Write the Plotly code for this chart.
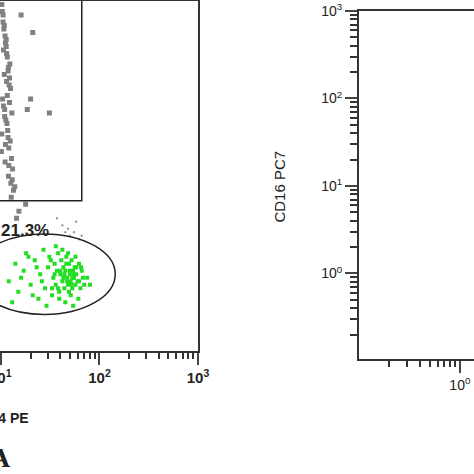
import plotly.graph_objects as go

# left panel events (CD4 PE on x, linear position on y)
gray_x = [10.2, 10.5, 10.8, 11.0, 11.3, 11.6, 11.9, 12.2, 12.5, 10.3, 10.7, 11.1, 11.4, 11.8, 12.1,
          10.4, 10.9, 11.2, 11.7, 12.4, 10.6, 11.5, 12.0, 12.8, 13.1, 10.1, 11.0, 11.9, 12.6, 13.4,
          10.5, 11.3, 12.3, 10.8, 11.6, 12.9, 10.2, 11.1, 12.0, 13.0, 10.6, 11.4, 12.2, 10.9, 11.8,
          16.0, 21.0, 20.0, 31.0, 18.5, 17.8, 15.2, 14.4, 12.7, 13.8]
gray_y = [99, 96, 93, 90, 87, 84, 81, 78, 75, 97, 92, 88, 85, 80, 76, 72, 69, 66, 63, 60, 70, 65,
          58, 55, 52, 57, 54, 50, 48, 46, 94, 89, 82, 79, 73, 68, 62, 59, 53, 49, 86, 77, 71, 67, 61,
          96, 91, 72, 68, 69, 42, 40, 38, 44, 47]
green_x = [12, 14, 15, 17, 18, 20, 22, 24, 25, 27, 28, 30, 31, 33, 34, 35, 36, 37, 38, 39, 40, 41,
           42, 43, 44, 45, 46, 47, 48, 49, 50, 51, 52, 53, 54, 55, 56, 57, 58, 60, 62, 64, 66, 68,
           70, 13, 16, 19, 21, 23, 26, 29, 32, 36, 39, 42, 45, 48, 51, 54, 57, 61, 65, 75, 80, 44,
           47, 50, 53, 46, 49, 52, 43, 40, 38, 55, 58, 62, 35, 33]
green_y = [20, 25, 17, 23, 28, 19, 26, 15, 22, 29, 18, 24, 27, 16, 21, 25, 19, 23, 28, 17, 22, 26,
           20, 24, 18, 23, 27, 21, 19, 25, 22, 20, 26, 18, 23, 21, 24, 19, 22, 20, 25, 18, 23, 21,
           19, 14, 21, 27, 16, 24, 20, 13, 26, 30, 15, 29, 14, 28, 16, 13, 27, 15, 24, 21, 19, 22,
           20, 23, 21, 25, 17, 19, 21, 23, 18, 22, 24, 20, 22, 18]
stray_x = [45, 50, 48, 42, 55, 62, 66, 58, 37]
stray_y = [34, 33, 35, 36, 34, 32, 33, 37, 38]

# gates
rect_gate = [1.0, 1.82, 43, 101]          # log x0, log x1, y0, y1
ellipse_gate = [0.72, 2.16, 10.5, 33.5]   # log x0, log x1, y0, y1

x_ticks = [10, 100, 1000]
x_labels = ["10<sup>1</sup>", "10<sup>2</sup>", "10<sup>3</sup>"]
y2_ticks = [1, 10, 100, 1000]
y2_labels = ["10<sup>0</sup>", "10<sup>1</sup>", "10<sup>2</sup>", "10<sup>3</sup>"]
x2_ticks = [1]
x2_labels = ["10<sup>0</sup>"]
minor_ticks = [m * 10 ** e for e in range(-2, 3) for m in range(2, 10)]

fig = go.Figure()
fig.add_trace(go.Scatter(x=gray_x, y=gray_y, mode="markers",
                         marker=dict(color="#808080", size=5, symbol="square"), xaxis="x", yaxis="y"))
fig.add_trace(go.Scatter(x=stray_x, y=stray_y, mode="markers",
                         marker=dict(color="#909090", size=2, symbol="square"), xaxis="x", yaxis="y"))
fig.add_trace(go.Scatter(x=green_x, y=green_y, mode="markers",
                         marker=dict(color="#22dd22", size=4, symbol="square"), xaxis="x", yaxis="y"))
# dummy trace so the right panel is drawn
fig.add_trace(go.Scatter(x=[], y=[], xaxis="x2", yaxis="y2"))

fig.add_shape(type="rect", xref="x", yref="y", x0=10 ** rect_gate[0] * 0.8, x1=10 ** rect_gate[1],
              y0=rect_gate[2], y1=rect_gate[3], line=dict(color="#222", width=1.5))
fig.add_shape(type="circle", xref="x", yref="y", x0=10 ** ellipse_gate[0], x1=10 ** ellipse_gate[1],
              y0=ellipse_gate[2], y1=ellipse_gate[3], line=dict(color="#222", width=1.5))

axis_line = dict(showline=True, linecolor="#333", linewidth=2, mirror=True, showgrid=False,
                 zeroline=False, automargin=False)
minor = dict(ticks="outside", ticklen=6, tickwidth=1.5, tickcolor="#333", tickvals=minor_ticks)
fig.update_layout(
    width=474, height=474, margin=dict(l=0, r=0, t=1, b=0),
    paper_bgcolor="white", plot_bgcolor="white", showlegend=False,
    font=dict(family="Liberation Sans, Arial", color="#222"),
    xaxis=dict(type="log", range=[0.99, 3.0], domain=[0, 198 / 474], anchor="y",
               tickvals=x_ticks, ticktext=x_labels, ticks="outside", ticklen=12, tickwidth=1.5,
               minor=minor, tickfont=dict(size=15, weight="bold"), **axis_line),
    yaxis=dict(range=[0, 100], domain=[1 - 351 / 474, 1], anchor="x", showticklabels=False, ticks="",
               **axis_line),
    xaxis2=dict(type="log", range=[-1, 0.14], domain=[359 / 474, 1], anchor="y2",
                tickvals=x2_ticks, ticktext=x2_labels, ticks="outside", ticklen=12, tickwidth=1.5,
                minor=minor, tickfont=dict(size=14), **axis_line),
    yaxis2=dict(type="log", range=[-0.98, 3.0], domain=[1 - 359 / 474, 1 - 10 / 474], anchor="x2",
                tickvals=y2_ticks, ticktext=y2_labels, ticks="outside", ticklen=12, tickwidth=1.5,
                minor=dict(minor, ticklen=7, tickwidth=2), tickfont=dict(size=14), **axis_line),
)

# the 10^1 label sits on the left page edge, half cut off
fig.add_annotation(text="10<sup>1</sup>", xref="x", yref="paper", x=1.0, y=1 - 376 / 474,
                   yanchor="middle", showarrow=False, font=dict(size=15, weight="bold"))
fig.add_annotation(text="CD16 PC7", xref="paper", yref="paper", x=280 / 474, y=1 - 186 / 474,
                   textangle=-90, showarrow=False, font=dict(size=15))
fig.add_annotation(text="CD4 PE", xref="paper", yref="paper", x=31 / 474, y=1 - 418 / 474,
                   xanchor="right", yanchor="middle", showarrow=False, font=dict(size=14, weight="bold"))
fig.add_annotation(text="A", xref="paper", yref="paper", x=13 / 474, y=1 - 457 / 474,
                   xanchor="right", yanchor="middle", showarrow=False,
                   font=dict(size=28, weight="bold", family="Liberation Serif"))
fig.add_annotation(text="21.3%", xref="x", yref="y", x=1.51, y=34.5, xanchor="right",
                   showarrow=False, font=dict(size=17, weight="bold"))

fig.write_html("out.html", config={"displayModeBar": False},
               post_script="document.body.style.margin='0';")
